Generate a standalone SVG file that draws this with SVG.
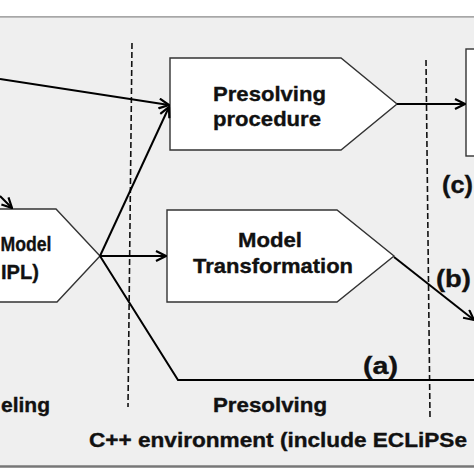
<svg xmlns="http://www.w3.org/2000/svg" width="474" height="474" viewBox="0 0 474 474">
<style>
.bg{fill:#efefef;stroke:none}
.node{fill:#ffffff;stroke:#333333;stroke-width:1.4}
.lbl{font-family:"Liberation Sans",Arial,sans-serif;font-weight:bold;fill:#111111;stroke:#111111;stroke-width:0.35}
.conn{fill:none;stroke:#000000;stroke-width:2}
.dash{fill:none;stroke:#111111;stroke-width:1.6;stroke-dasharray:6 3}
</style>
<defs>
<marker id="arr" viewBox="0 0 12 12" refX="11" refY="6" markerWidth="12" markerHeight="12" markerUnits="userSpaceOnUse" orient="auto">
<path d="M1,1 L11,6 L1,11" fill="none" stroke="#000" stroke-width="2.2" stroke-linejoin="miter"/>
</marker>
</defs>
<rect x="0" y="0" width="474" height="474" fill="#ffffff"/>
<rect class="bg" x="0" y="17" width="474" height="450"/>
<line x1="0" y1="16.8" x2="474" y2="16.8" stroke="#8a8a8a" stroke-width="1.2"/>
<line x1="0" y1="466.5" x2="474" y2="466.5" stroke="#777777" stroke-width="2.4"/>

<g id="dividers">
<line class="dash" x1="132" y1="43" x2="128" y2="407"/>
<line class="dash" x1="426" y1="60" x2="430" y2="417"/>
</g>

<g id="node-modeling">
<polygon class="node" points="-10,209 56,209 100,256 57,302 -10,302"/>
<text class="lbl" x="0.5" y="251" font-size="21" textLength="51" lengthAdjust="spacingAndGlyphs">Model</text>
<text class="lbl" x="1" y="279" font-size="21" textLength="38" lengthAdjust="spacingAndGlyphs">IPL)</text>
</g>

<g id="node-presolving">
<polygon class="node" points="170,58 341,58 397,104 341,150 170,150"/>
<text class="lbl" x="213" y="101" font-size="21" textLength="113" lengthAdjust="spacingAndGlyphs">Presolving</text>
<text class="lbl" x="213" y="126" font-size="21" textLength="108" lengthAdjust="spacingAndGlyphs">procedure</text>
</g>

<g id="node-transformation">
<polygon class="node" points="167,210 337,210 394,256 337,302 167,302"/>
<text class="lbl" x="238" y="247" font-size="20.5" textLength="64" lengthAdjust="spacingAndGlyphs">Model</text>
<text class="lbl" x="193" y="273" font-size="20.5" textLength="160" lengthAdjust="spacingAndGlyphs">Transformation</text>
</g>

<g id="node-right">
<rect class="node" x="466" y="49" width="30" height="107"/>
</g>

<g id="connectors">
<line class="conn" x1="0" y1="79" x2="169" y2="105" marker-end="url(#arr)"/>
<line class="conn" x1="100" y1="256" x2="169" y2="107" marker-end="url(#arr)"/>
<line class="conn" x1="0" y1="196" x2="12" y2="208" marker-end="url(#arr)"/>
<line class="conn" x1="100" y1="256" x2="166" y2="256" marker-end="url(#arr)"/>
<polyline class="conn" points="100,256 178,380 474,380"/>
<line class="conn" x1="394" y1="257" x2="474" y2="320" marker-end="url(#arr)"/>
<line class="conn" x1="397" y1="104" x2="465" y2="104" marker-end="url(#arr)"/>
</g>

<g id="labels">
<text class="lbl" x="442" y="193" font-size="24" textLength="31" lengthAdjust="spacingAndGlyphs">(c)</text>
<text class="lbl" x="436" y="287" font-size="24" textLength="35" lengthAdjust="spacingAndGlyphs">(b)</text>
<text class="lbl" x="363" y="374" font-size="24" textLength="35" lengthAdjust="spacingAndGlyphs">(a)</text>
<text class="lbl" x="1" y="412" font-size="20" textLength="49" lengthAdjust="spacingAndGlyphs">eling</text>
<text class="lbl" x="213" y="412" font-size="19.5" textLength="114" lengthAdjust="spacingAndGlyphs">Presolving</text>
<text class="lbl" x="89" y="447" font-size="19.5" textLength="378" lengthAdjust="spacingAndGlyphs">C++ environment (include ECLiPSe</text>
</g>
</svg>
